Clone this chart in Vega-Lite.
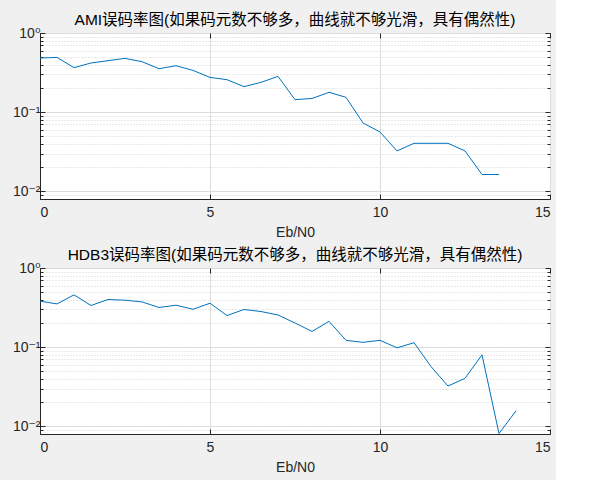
{
  "$schema": "https://vega.github.io/schema/vega-lite/v6.json",
  "background": "#f0f0f0",
  "padding": {"left": 11, "top": 12, "right": 5, "bottom": 5},
  "datasets": {
    "ami": [
      {"ebn0": 0, "ber": 0.483}, {"ebn0": 0.5, "ber": 0.492}, {"ebn0": 1, "ber": 0.365},
      {"ebn0": 1.5, "ber": 0.418}, {"ebn0": 2, "ber": 0.447}, {"ebn0": 2.5, "ber": 0.478},
      {"ebn0": 3, "ber": 0.434}, {"ebn0": 3.5, "ber": 0.354}, {"ebn0": 4, "ber": 0.386},
      {"ebn0": 4.5, "ber": 0.337}, {"ebn0": 5, "ber": 0.275}, {"ebn0": 5.5, "ber": 0.257},
      {"ebn0": 6, "ber": 0.21}, {"ebn0": 6.5, "ber": 0.238}, {"ebn0": 7, "ber": 0.283},
      {"ebn0": 7.5, "ber": 0.144}, {"ebn0": 8, "ber": 0.149}, {"ebn0": 8.5, "ber": 0.178},
      {"ebn0": 9, "ber": 0.154}, {"ebn0": 9.5, "ber": 0.073}, {"ebn0": 10, "ber": 0.0562},
      {"ebn0": 10.5, "ber": 0.0324}, {"ebn0": 11, "ber": 0.0404}, {"ebn0": 11.5, "ber": 0.0404},
      {"ebn0": 12, "ber": 0.0404}, {"ebn0": 12.5, "ber": 0.0324}, {"ebn0": 13, "ber": 0.0163},
      {"ebn0": 13.5, "ber": 0.0163}
    ],
    "hdb3": [
      {"ebn0": 0, "ber": 0.381}, {"ebn0": 0.5, "ber": 0.352}, {"ebn0": 1, "ber": 0.458},
      {"ebn0": 1.5, "ber": 0.336}, {"ebn0": 2, "ber": 0.4}, {"ebn0": 2.5, "ber": 0.392},
      {"ebn0": 3, "ber": 0.373}, {"ebn0": 3.5, "ber": 0.317}, {"ebn0": 4, "ber": 0.339},
      {"ebn0": 4.5, "ber": 0.301}, {"ebn0": 5, "ber": 0.359}, {"ebn0": 5.5, "ber": 0.251},
      {"ebn0": 6, "ber": 0.299}, {"ebn0": 6.5, "ber": 0.282}, {"ebn0": 7, "ber": 0.255},
      {"ebn0": 7.5, "ber": 0.202}, {"ebn0": 8, "ber": 0.158}, {"ebn0": 8.5, "ber": 0.212},
      {"ebn0": 9, "ber": 0.122}, {"ebn0": 9.5, "ber": 0.115}, {"ebn0": 10, "ber": 0.122},
      {"ebn0": 10.5, "ber": 0.0982}, {"ebn0": 11, "ber": 0.1138}, {"ebn0": 11.5, "ber": 0.0569},
      {"ebn0": 12, "ber": 0.0323}, {"ebn0": 12.5, "ber": 0.0404}, {"ebn0": 13, "ber": 0.08},
      {"ebn0": 13.5, "ber": 0.0081}, {"ebn0": 14, "ber": 0.0157}
    ]
  },
  "spacing": 69,
  "bounds": "flush",
  "vconcat": [
    {
      "title": {"text": "AMI误码率图(如果码元数不够多，曲线就不够光滑，具有偶然性)"},
      "width": 510,
      "height": 166,
      "data": {"name": "ami"},
      "layer": [
        {
          "mark": {"type": "line", "color": "#0072BD", "strokeWidth": 1, "clip": true},
          "encoding": {
            "x": {
              "field": "ebn0", "type": "quantitative",
              "scale": {"domain": [0, 15], "nice": false},
              "axis": {"orient": "bottom", "values": [0, 5, 10, 15], "title": "Eb/N0", "grid": true, "gridColor": "#dcdcdc", "tickSize": -5, "labelPadding": 11, "titlePadding": 6}
            },
            "y": {
              "field": "ber", "type": "quantitative",
              "scale": {"type": "log", "domain": [0.008, 1], "nice": false},
              "axis": {
                "orient": "left", "title": null, "labelOverlap": false, "labelFlush": false,
                "values": [0.009, 0.01, 0.02, 0.03, 0.04, 0.05, 0.06, 0.07, 0.08, 0.09, 0.1, 0.2, 0.3, 0.4, 0.5, 0.6, 0.7, 0.8, 0.9, 1],
                "labelExpr": "datum.value == 1 ? '10⁰' : datum.value == 0.1 ? '10⁻¹' : datum.value == 0.01 ? '10⁻²' : ''",
                "grid": true,
                "gridColor": {"condition": {"test": "datum.value == 1 || datum.value == 0.1 || datum.value == 0.01", "value": "#dcdcdc"}, "value": "#d4d4d4"},
                "gridDash": {"condition": {"test": "datum.value == 1 || datum.value == 0.1 || datum.value == 0.01", "value": []}, "value": [1, 2]},
                "tickSize": {"condition": {"test": "datum.value == 1 || datum.value == 0.1 || datum.value == 0.01", "value": -5}, "value": -3},
                "labelPadding": 5
              }
            }
          }
        },
        {
          "mark": {"type": "line", "strokeOpacity": 0},
          "encoding": {
            "x": {
              "field": "ebn0", "type": "quantitative",
              "axis": {"orient": "top", "values": [0, 5, 10, 15], "title": null, "labels": false, "grid": false, "domain": false, "tickSize": -5}
            },
            "y": {
              "field": "ber", "type": "quantitative",
              "axis": {
                "orient": "right", "title": null, "labels": false, "grid": false, "domain": false,
                "values": [0.009, 0.01, 0.02, 0.03, 0.04, 0.05, 0.06, 0.07, 0.08, 0.09, 0.1, 0.2, 0.3, 0.4, 0.5, 0.6, 0.7, 0.8, 0.9, 1],
                "tickSize": {"condition": {"test": "datum.value == 1 || datum.value == 0.1 || datum.value == 0.01", "value": -5}, "value": -3}
              }
            }
          }
        }
      ],
      "resolve": {"axis": {"x": "independent", "y": "independent"}}
    },
    {
      "title": {"text": "HDB3误码率图(如果码元数不够多，曲线就不够光滑，具有偶然性)"},
      "width": 510,
      "height": 166,
      "data": {"name": "hdb3"},
      "layer": [
        {
          "mark": {"type": "line", "color": "#0072BD", "strokeWidth": 1, "clip": true},
          "encoding": {
            "x": {
              "field": "ebn0", "type": "quantitative",
              "scale": {"domain": [0, 15], "nice": false},
              "axis": {"orient": "bottom", "values": [0, 5, 10, 15], "title": "Eb/N0", "grid": true, "gridColor": "#dcdcdc", "tickSize": -5, "labelPadding": 11, "titlePadding": 6}
            },
            "y": {
              "field": "ber", "type": "quantitative",
              "scale": {"type": "log", "domain": [0.008, 1], "nice": false},
              "axis": {
                "orient": "left", "title": null, "labelOverlap": false, "labelFlush": false,
                "values": [0.009, 0.01, 0.02, 0.03, 0.04, 0.05, 0.06, 0.07, 0.08, 0.09, 0.1, 0.2, 0.3, 0.4, 0.5, 0.6, 0.7, 0.8, 0.9, 1],
                "labelExpr": "datum.value == 1 ? '10⁰' : datum.value == 0.1 ? '10⁻¹' : datum.value == 0.01 ? '10⁻²' : ''",
                "grid": true,
                "gridColor": {"condition": {"test": "datum.value == 1 || datum.value == 0.1 || datum.value == 0.01", "value": "#dcdcdc"}, "value": "#d4d4d4"},
                "gridDash": {"condition": {"test": "datum.value == 1 || datum.value == 0.1 || datum.value == 0.01", "value": []}, "value": [1, 2]},
                "tickSize": {"condition": {"test": "datum.value == 1 || datum.value == 0.1 || datum.value == 0.01", "value": -5}, "value": -3},
                "labelPadding": 5
              }
            }
          }
        },
        {
          "mark": {"type": "line", "strokeOpacity": 0},
          "encoding": {
            "x": {
              "field": "ebn0", "type": "quantitative",
              "axis": {"orient": "top", "values": [0, 5, 10, 15], "title": null, "labels": false, "grid": false, "domain": false, "tickSize": -5}
            },
            "y": {
              "field": "ber", "type": "quantitative",
              "axis": {
                "orient": "right", "title": null, "labels": false, "grid": false, "domain": false,
                "values": [0.009, 0.01, 0.02, 0.03, 0.04, 0.05, 0.06, 0.07, 0.08, 0.09, 0.1, 0.2, 0.3, 0.4, 0.5, 0.6, 0.7, 0.8, 0.9, 1],
                "tickSize": {"condition": {"test": "datum.value == 1 || datum.value == 0.1 || datum.value == 0.01", "value": -5}, "value": -3}
              }
            }
          }
        }
      ],
      "resolve": {"axis": {"x": "independent", "y": "independent"}}
    }
  ],
  "config": {
    "view": {"stroke": "#262626", "strokeWidth": 1, "fill": "white"},
    "title": {"font": "Liberation Sans, Noto Sans CJK SC", "fontSize": 15.5, "fontWeight": "normal", "color": "#000000", "anchor": "middle", "offset": -2},
    "axis": {
      "labelFont": "Liberation Sans, DejaVu Sans",
      "labelFontSize": 14,
      "labelColor": "#262626",
      "domainColor": "#262626",
      "tickColor": "#262626",
      "titleFont": "Liberation Sans",
      "titleFontSize": 14,
      "titleFontWeight": "normal",
      "titleColor": "#262626"
    }
  }
}
